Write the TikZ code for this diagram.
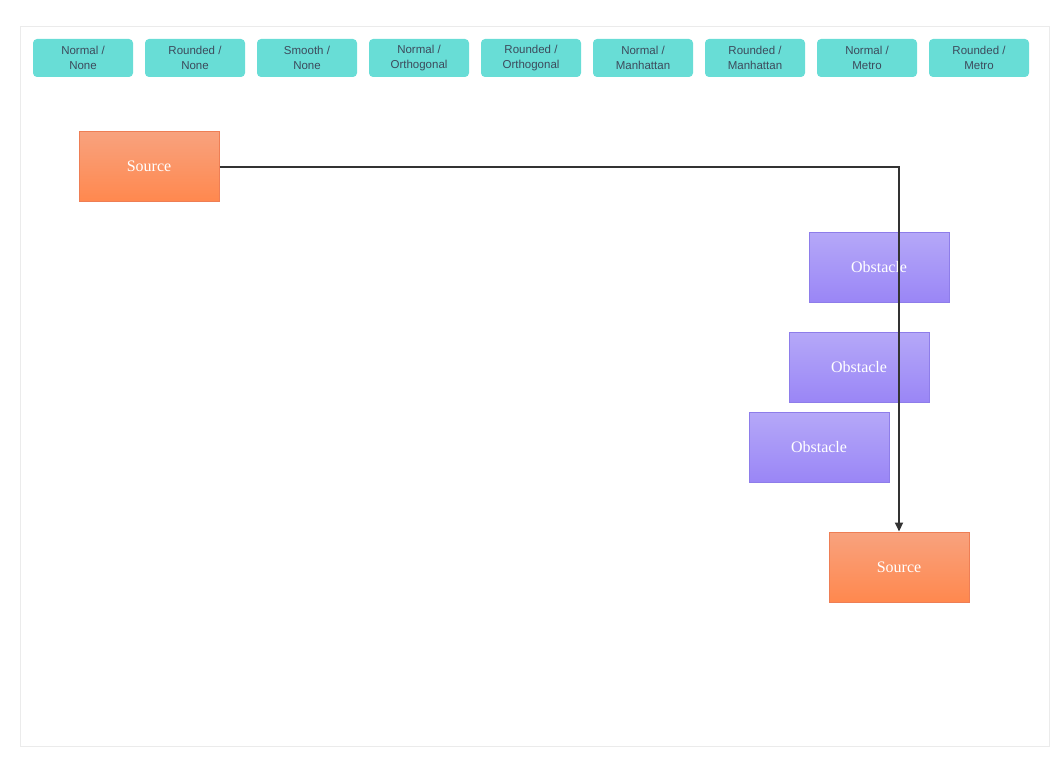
\documentclass[tikz,border=0pt]{standalone}
\usepackage{fontspec}
\newfontfamily\btnfont{Liberation Sans}
\setmainfont{Liberation Serif}
\usetikzlibrary{arrows.meta}
\definecolor{btn}{HTML}{68DDD6}
\definecolor{btntext}{HTML}{3D4A5C}
\definecolor{srcTop}{HTML}{F8A27E}
\definecolor{srcBot}{HTML}{FF884E}
\definecolor{srcBorder}{HTML}{EE7E55}
\definecolor{obsTop}{HTML}{B5A8F8}
\definecolor{obsBot}{HTML}{9A86F6}
\definecolor{obsBorder}{HTML}{8E7DEA}
\tikzset{
  btnbox/.style={fill=btn, rounded corners=4pt, minimum width=100pt, minimum height=38pt, inner sep=0pt, align=center, text=btntext, font=\btnfont\fontsize{11.5}{14.5}\selectfont},
  srcbox/.style={draw=srcBorder, line width=1pt, top color=srcTop, bottom color=srcBot, minimum width=140pt, minimum height=70pt, text=white, font=\fontsize{16}{18}\selectfont\scshape},
  obsbox/.style={draw=obsBorder, line width=1pt, top color=obsTop, bottom color=obsBot, minimum width=140pt, minimum height=70pt, text=white, font=\fontsize{16}{18}\selectfont\scshape},
  conn/.style={draw=black!80, line width=2pt, -{Triangle[length=9pt,width=8pt]}}
}
\begin{document}
\begin{tikzpicture}[x=1pt,y=-1pt]
\useasboundingbox (0,0) rectangle (1064,765);
\draw[draw=black!8, line width=1pt] (20,27) rectangle (1049,746);
\foreach \t [count=\i from 0] in {Normal /\\None, Rounded /\\None, Smooth /\\None, Normal /\\Orthogonal, Rounded /\\Orthogonal, Normal /\\Manhattan, Rounded /\\Manhattan, Normal /\\Metro, Rounded /\\Metro}
  \node[btnbox] (b\i) at ({83+112*\i},58) {\t};
\node[srcbox] (s1) at (149,166.5) {Source};
\node[obsbox] (o1) at (879,267) {Obstacle};
\node[obsbox] (o2) at (859,367) {Obstacle};
\node[obsbox] (o3) at (819,447) {Obstacle};
\node[srcbox] (s2) at (899,567) {Source};
\draw[conn] (s1.east) -| (s2.north);
\end{tikzpicture}
\end{document}
